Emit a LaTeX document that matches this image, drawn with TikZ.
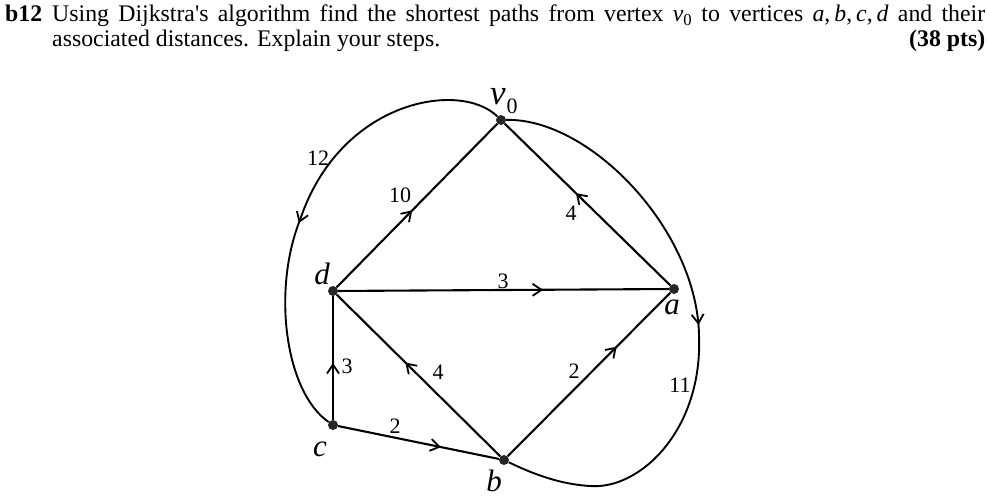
\documentclass[tikz,border=0pt]{standalone}
\usepackage{fontspec}
\setmainfont{Liberation Serif}
\usetikzlibrary{arrows.meta,decorations.markings}
\begin{document}
\begin{tikzpicture}[x=1pt,y=-1pt,
  dot/.style={circle,fill=black!85,inner sep=0pt,minimum size=10pt},
  edge/.style={line width=2.1pt},
  curveedge/.style={line width=1.9pt},
  vlab/.style={font=\fontsize{31}{31}\selectfont\itshape, inner sep=0pt},
  wlab/.style={font=\fontsize{22}{22}\selectfont, inner sep=0pt},
  hdr/.style={font=\fontsize{23.8}{25}\selectfont, inner sep=0pt},
  midarrow/.style={postaction={decorate},decoration={markings,mark=at position #1 with {\arrow{Straight Barb[length=9pt,width=12pt,line width=1.8pt]}}}},
]
\useasboundingbox (0,0) rectangle (987,497);
% header
\node[hdr, anchor=base west] (num) at (5,22) {\textbf{b12}};
\node[hdr, anchor=base west, text width=933pt, align=justify] (task) at (52,22)
  {Using Dijkstra\textquotesingle s algorithm find the shortest paths from vertex \textit{v}\textsubscript{0} to vertices \textit{a},\,\textit{b},\,\textit{c},\,\textit{d} and their\linebreak associated distances. Explain your steps.\hfill\textbf{(38 pts)}};
% vertices
\node[dot] (v0) at (501,120) {};
\node[dot] (d) at (333,291) {};
\node[dot] (a) at (674,289) {};
\node[dot] (c) at (333,425) {};
\node[dot] (b) at (504,460) {};
% vertex labels
\node[vlab, font=\fontsize{35}{35}\selectfont\itshape] (lv) at (498,97) {v};
\node[inner sep=0pt, font=\fontsize{22}{22}\selectfont] (lv0) at (512,106) {0};
\node[vlab] (ld) at (322,274) {d};
\node[vlab] (la) at (672,307) {a};
\node[vlab] (lc) at (320,449) {c};
\node[vlab] (lb) at (494,481) {b};
% straight edges
\draw[edge, midarrow=0.47] (d) -- (v0);
\draw[edge, midarrow=0.57] (a) -- (v0);
\draw[edge, midarrow=0.62] (d) -- (a);
\draw[edge, midarrow=0.46] (c) -- (d);
\draw[edge, midarrow=0.58] (b) -- (d);
\draw[edge, midarrow=0.67] (b) -- (a);
\draw[edge, midarrow=0.64] (c) -- (b);
% curved edges
\draw[curveedge, midarrow=0.55] (v0) .. controls (460,80) and (340,100) .. (300,220)
   .. controls (272,290) and (285,392) .. (c);
\draw[curveedge, midarrow=0.5] (v0) .. controls (590,118) and (697,230) .. (699,335)
   .. controls (703,430) and (640,490) .. (590,486)
   .. controls (555,484) and (525,470) .. (b);
% weights
\node[wlab] (w12) at (318,158) {12};
\node[wlab] (w10) at (400,195) {10};
\node[wlab] (w4a) at (571,213) {4};
\node[wlab] (w3a) at (503,281) {3};
\node[wlab] (w3b) at (347,366) {3};
\node[wlab] (w4b) at (438,372) {4};
\node[wlab] (w2a) at (574,371) {2};
\node[wlab] (w11) at (680,385) {11};
\node[wlab] (w2b) at (395,426) {2};
\end{tikzpicture}
\end{document}
